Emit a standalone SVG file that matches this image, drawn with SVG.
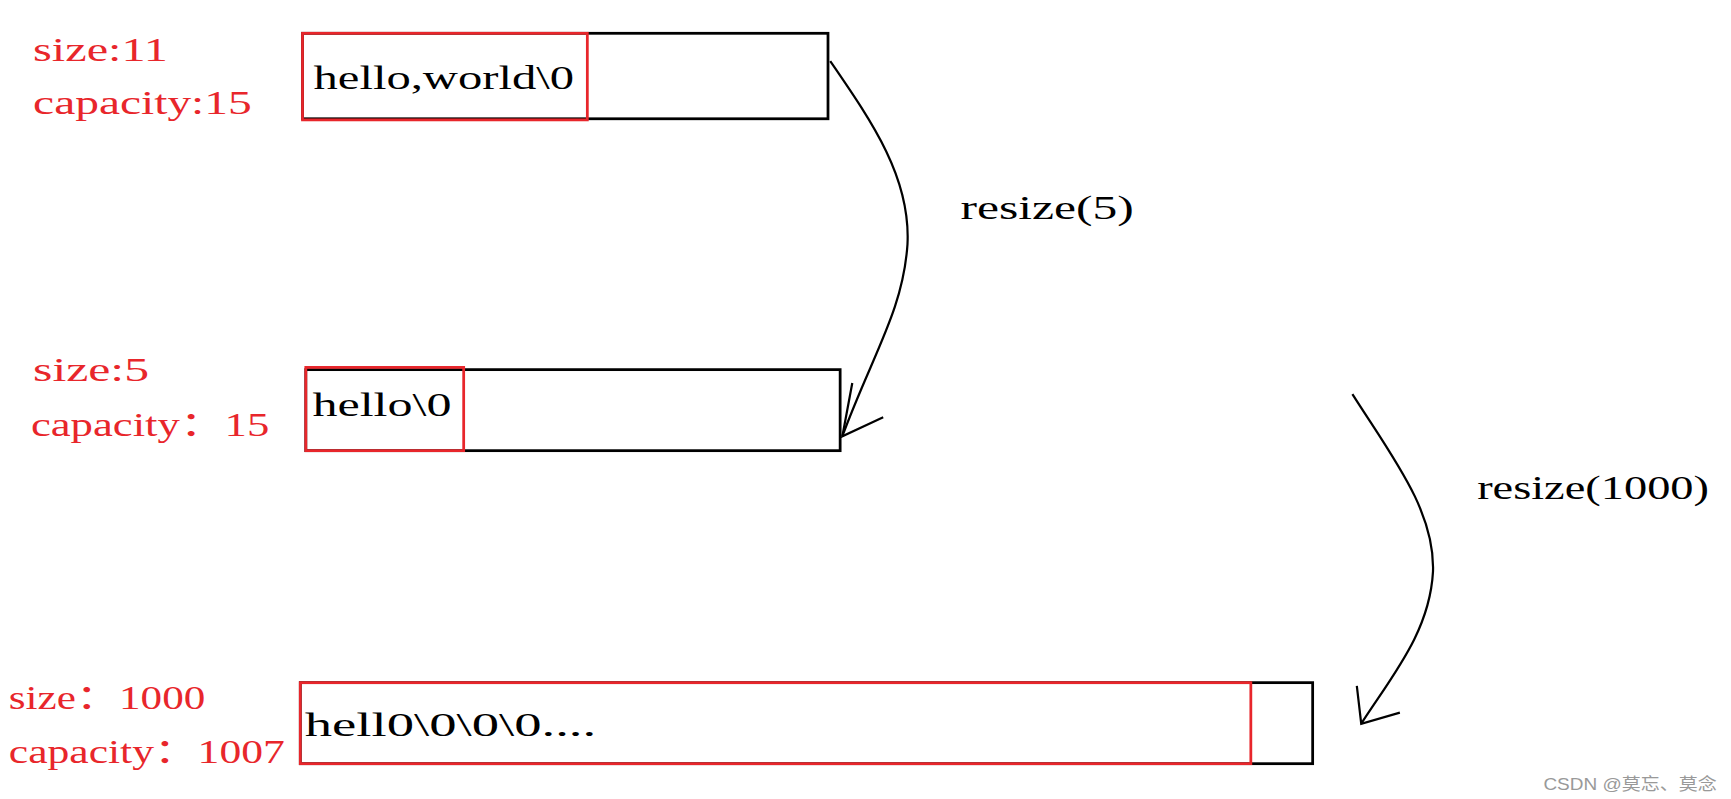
<svg xmlns="http://www.w3.org/2000/svg" width="1731" height="799" viewBox="0 0 1731 799">
<style>
.t{font-family:"Liberation Serif","Noto Sans CJK SC",serif;font-size:31px;fill:#000}
.r{fill:#e8262b}
.bk{fill:none;stroke:#000;stroke-width:2.5}
.rd{fill:none;stroke:#e8262b;stroke-width:2.5}
.c{fill:none;stroke:#000;stroke-width:2}
</style>
<rect width="1731" height="799" fill="#fff"/>
<g transform="scale(1.104,1.11)">
<g id="box1">
<rect class="bk" x="274" y="30" width="476" height="77"/>
<rect class="rd" x="274" y="30" width="258" height="78"/>
<text class="t" x="284" y="80" textLength="236" lengthAdjust="spacingAndGlyphs">hello,world\0</text>
<text class="t r" x="30" y="55" textLength="122" lengthAdjust="spacingAndGlyphs">size:11</text>
<text class="t r" x="30" y="103" textLength="198" lengthAdjust="spacingAndGlyphs">capacity:15</text>
</g>
<g id="box2">
<rect class="bk" x="277" y="333" width="484" height="73"/>
<rect class="rd" x="277" y="331" width="143" height="75"/>
<text class="t" x="283" y="375" textLength="126" lengthAdjust="spacingAndGlyphs">hello\0</text>
<text class="t r" x="30" y="343" textLength="105" lengthAdjust="spacingAndGlyphs">size:5</text>
<text class="t r" x="28" y="393" textLength="216" lengthAdjust="spacingAndGlyphs">capacity：15</text>
</g>
<g id="box3">
<rect class="bk" x="272" y="615" width="917" height="73"/>
<rect class="rd" x="272" y="615" width="861" height="73"/>
<text class="t" x="276" y="663" textLength="264" lengthAdjust="spacingAndGlyphs">hell0\0\0\0....</text>
<text class="t r" x="8" y="639" textLength="178" lengthAdjust="spacingAndGlyphs">size：1000</text>
<text class="t r" x="8" y="687" textLength="250" lengthAdjust="spacingAndGlyphs">capacity：1007</text>
</g>
<g id="connectors">
<path class="c" d="M752,55 C790,110 825,160 822,220 C818,280 790,320 763,393"/>
<path class="c" d="M772,345 L763,393 L800,376"/>
<path class="c" d="M1225,355 C1260,410 1300,460 1298,515 C1295,570 1260,610 1233,652"/>
<path class="c" d="M1229,618 L1233,652 L1268,642"/>
<text class="t" x="870" y="197" textLength="157" lengthAdjust="spacingAndGlyphs">resize(5)</text>
<text class="t" x="1338" y="450" textLength="210" lengthAdjust="spacingAndGlyphs">resize(1000)</text>
</g>
<text x="1398" y="712" font-family="Liberation Sans,Noto Sans CJK SC,sans-serif" font-size="15" fill="#999" textLength="157" lengthAdjust="spacingAndGlyphs">CSDN @莫忘、莫念</text>
</g>
</svg>
